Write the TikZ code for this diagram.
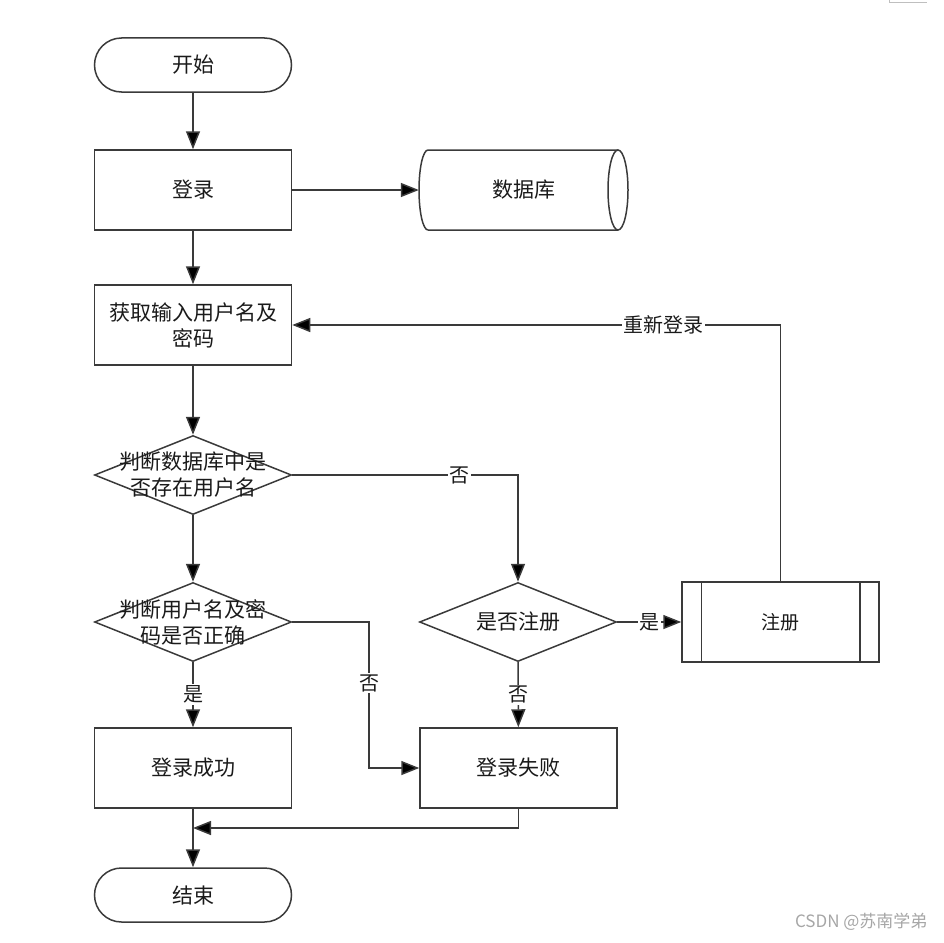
\documentclass[tikz,border=0pt]{standalone}
\usepackage{fontspec}
\setmainfont{Noto Sans CJK SC}
\usetikzlibrary{shapes.geometric,arrows.meta,calc}
\definecolor{ln}{HTML}{3A3A3A}
\definecolor{tx}{HTML}{1A1A1A}
\begin{document}
\begin{tikzpicture}[x=1pt,y=-1pt,
  every node/.style={font=\fontsize{21}{26}\selectfont, text=tx},
  boxst/.style={draw=ln, line width=1.5pt, rectangle, minimum width=197pt, minimum height=80pt, inner sep=0pt, align=center},
  termst/.style={draw=ln, line width=1.5pt, rectangle, rounded corners=27pt, minimum width=197pt, minimum height=54pt, inner sep=0pt},
  diast/.style={draw=ln, line width=1.5pt, diamond, minimum width=197pt, minimum height=79pt, inner sep=0pt},
  dtext/.style={align=center, inner sep=0pt},
  arr/.style={draw=ln, line width=1.5pt, -{Triangle[length=18pt,width=14pt,fill=black]}},
  lab/.style={fill=white, inner sep=1.5pt, font=\fontsize{20}{22}\selectfont}
]
\useasboundingbox (0,0) rectangle (944,942);
% tiny gray mark top right
\draw[gray!50, line width=1pt] (889,0) -- (889,3) -- (927,3);

\node[termst] (start) at (193,65) {开始};
\node[boxst] (login) at (193,190) {登录};
% database
\node[minimum width=209pt, minimum height=80pt, inner sep=0pt] (db) at (523.5,190) {数据库};
\draw[ln, line width=1.5pt] (428,150) -- (618,150)
   (428,230) -- (618,230)
   (428,150) arc[start angle=-90, end angle=-270, x radius=9, y radius=40];
\draw[ln, line width=1.5pt] (618,190) ellipse[x radius=10, y radius=40];

\node[boxst] (input) at (193,325) {获取输入用户名及\\密码};
\node[diast] (d1) at (193,475) {};
\node[dtext] (d1t) at (d1) {判断数据库中是\\否存在用户名};
\node[diast] (d2) at (518,622) {};
\node[dtext] (d2t) at (d2) {是否注册};
\node[boxst] (reg) at (780.5,622) {};
\node[font=\fontsize{19}{22}\selectfont] (regt) at (reg) {注册};
\draw[ln, line width=1.5pt] ($(reg.north west)+(20,0)$) -- ($(reg.south west)+(20,0)$)
  ($(reg.north east)+(-20,0)$) -- ($(reg.south east)+(-20,0)$);
\node[diast] (d3) at (193,622) {};
\node[dtext] (d3t) at (d3) {判断用户名及密\\码是否正确};
\node[boxst] (succ) at (193,768) {登录成功};
\node[boxst] (fail) at (518.5,768) {登录失败};
\node[termst] (end) at (193,895) {结束};

\coordinate (k) at (369,622);
\coordinate (m) at (193,828);

\draw[arr] (start) -- (login);
\draw[arr] (login) -- (db);
\draw[arr] (login) -- (input);
\draw[arr] (input) -- (d1);
\draw[arr] (d1.east) -| node[lab, pos=0.37]{否} (d2.north);
\draw[arr] (d2.east) -- node[lab]{是} (reg.west);
\draw[arr] (reg.north) |- node[lab, pos=0.62]{重新登录} (input.east);
\draw[arr] (d1) -- (d3);
\draw[arr] (d3.east) -- (k) |- node[lab, pos=0.21]{否} (fail.west);
\draw[arr] (d3) -- node[lab]{是} (succ);
\draw[arr] (d2) -- node[lab]{否} (fail);
\draw[arr] (succ) -- (end);
\draw[arr] (fail.south) |- (m);

\node[text=gray!70, font=\fontsize{17}{19}\selectfont, anchor=east] (wm) at (931,922) {CSDN @苏南学弟};
\end{tikzpicture}
\end{document}
